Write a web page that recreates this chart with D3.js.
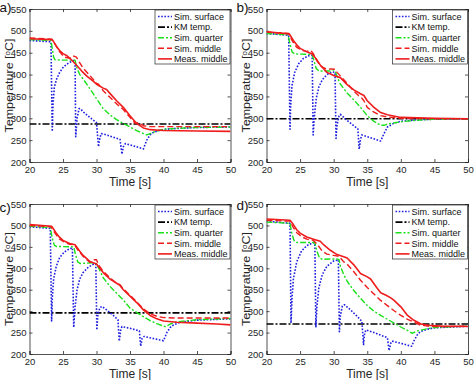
<!DOCTYPE html>
<html><head><meta charset="utf-8">
<script src="https://cdn.jsdelivr.net/npm/d3@7"></script>
<style>
html,body{margin:0;padding:0;background:#fff;}
svg{display:block;font-family:"Liberation Sans",Arial,sans-serif;}
</style></head>
<body><svg id="chart" width="474" height="380"></svg>
<script>
// ---- data (time [s], temperature [°C]) ----
const panelLabels = ["a)", "b)", "c)", "d)"];
const seriesNames = ["Sim. surface", "KM temp.", "Sim. quarter", "Sim. middle", "Meas. middle"];
const xTicks = [20, 25, 30, 35, 40, 45, 50];
const yTicks = [200, 250, 300, 350, 400, 450, 500, 550];
const kmTemps = [287, 299, 296, 270];

const surfA = [[20,478],[23.2,475],[23.4,270],[23.5,330],[23.7,370],[24,388],[24.5,405],[25,416],[25.5,423],[26,428],[26.6,432],[26.8,430],[26.9,258],[27.1,300],[27.4,322],[27.6,322],[28,315],[29,302],[30,290],[30.3,235],[30.5,255],[30.7,265],[31.5,262],[32.5,257],[33.5,252],[33.8,218],[34,235],[34.3,242],[35.5,237],[37,230],[37.5,250],[38,262],[38.5,268],[39.5,273],[41,276],[45,279],[50,280]];
const quartA = [[20,480],[23.2,478],[23.4,460],[23.6,440],[23.8,434],[25,433],[26.8,433],[27,418],[27.5,400],[28,390],[29,368],[30,345],[31,322],[32,308],[33,297],[34,288],[35,280],[36,272],[37,265],[37.5,262],[38,265],[39,271],[40,275],[42,277],[45,279],[50,280]];
const midSimA = [[20,484],[23.3,481],[23.8,470],[24.5,452],[25.2,440],[26,437],[26.5,443],[27,440],[27.3,432],[28,415],[29,398],[30,380],[30.3,378],[31,363],[32,348],[33,333],[34,320],[35,302],[35.8,288],[36.3,290],[37,283],[38,281],[40,281],[45,281],[50,281]];
const measA = [[20,482],[23.4,480],[24,465],[24.5,455],[25,448],[25.6,443],[26.5,430],[27.1,420],[27.8,408],[28.6,396],[29.5,385],[30,378],[31,369],[31.5,366],[32,357],[33,340],[34,325],[35,306],[36,288],[37,278],[38,274],[40,272],[45,271],[50,270]];

const surfB = [[20,494],[23.3,490],[23.5,275],[23.6,330],[23.8,375],[24.2,405],[24.8,425],[25.5,437],[26.3,443],[26.8,444],[26.95,262],[27.1,300],[27.4,345],[27.8,372],[28.3,388],[29,400],[29.8,406],[30.2,405],[30.35,254],[30.5,285],[30.8,305],[31,309],[32,295],[33,283],[33.6,276],[33.8,229],[34,252],[34.2,262],[35,258],[36,253],[37,248],[37.5,265],[38,280],[39,289],[40,293],[42,296],[45,298],[50,299]];
const quartB = [[20,494],[23.2,491],[23.5,470],[23.8,452],[24.2,447],[26.8,446],[27.1,430],[27.4,414],[27.8,408],[29.5,408],[30,411],[30.3,405],[30.6,392],[31,378],[32,358],[33,342],[34,325],[35,306],[36,293],[37,284],[37.5,284],[38,287],[40,292],[42,295],[45,298],[50,299]];
const midSimB = [[20,497],[23.3,494],[23.8,478],[24.5,462],[25.3,455],[26,453],[26.6,455],[27,447],[27.5,432],[28,420],[29,412],[29.6,413],[30.2,412],[30.5,405],[31,397],[32,380],[33,362],[33.7,352],[34.1,348],[34.5,340],[35,325],[35.8,316],[36.5,310],[37,306],[38,303],[40,300],[45,299],[50,299]];
const measB = [[20,498],[23.4,493],[24,478],[24.5,468],[25,460],[26,452],[26.8,447],[27.3,438],[28,422],[29,405],[30,398],[31,393],[31.5,385],[32,377],[33,365],[34,356],[34.5,352],[35,340],[36,325],[37,313],[38,308],[40,302],[45,300],[50,299]];

const surfC = [[20,497],[23.1,493],[23.3,277],[23.4,330],[23.6,375],[24,405],[24.5,425],[25.2,438],[26,446],[26.4,448],[26.6,262],[26.8,310],[27.1,350],[27.5,375],[28,390],[28.8,403],[29.6,410],[29.9,410],[30.05,256],[30.2,290],[30.5,308],[30.8,311],[31.5,303],[32.5,290],[33.2,280],[33.4,230],[33.6,255],[33.8,264],[35,260],[36.4,254],[36.6,218],[36.8,236],[37.1,241],[38.5,236],[40,231],[40.5,250],[41,262],[41.5,268],[42.5,274],[45,279],[50,282]];
const quartC = [[20,498],[23.1,495],[23.4,470],[23.7,454],[24,451],[26.6,450],[26.9,430],[27.2,415],[27.6,411],[29.5,413],[30,410],[30.5,395],[31,378],[32,358],[33,342],[34,326],[35,307],[36,297],[37,287],[38,278],[39,271],[40,265],[40.3,264],[41,270],[42,275],[45,280],[50,283]];
const midSimC = [[20,500],[23.2,497],[23.8,482],[24.5,468],[25.3,460],[26,456],[26.7,455],[27.2,443],[28,428],[29,414],[29.6,420],[30,420],[30.3,408],[31,393],[32,378],[33,365],[33.5,362],[34,352],[35,337],[36,322],[37,305],[38,294],[39,288],[40,285],[42,284],[50,284]];
const measC = [[20,502],[23.3,498],[24,482],[24.5,472],[25,465],[26,458],[26.8,455],[27.5,440],[28,430],[29,416],[30,410],[30.5,400],[31,390],[32,375],[32.5,370],[33,365],[33.5,360],[34,350],[35,335],[36,320],[37,303],[38,290],[39,282],[40,277],[42,274],[45,272],[48,270],[50,268]];

const surfD = [[20,510],[23.5,505],[23.65,272],[23.8,330],[24,375],[24.5,415],[25.2,440],[26,453],[27,460],[27.2,458],[27.35,262],[27.5,310],[27.8,355],[28.3,385],[29,405],[30,417],[30.7,420],[30.85,252],[31,290],[31.3,312],[31.6,315],[32.5,303],[33.5,288],[34.2,276],[34.45,222],[34.6,248],[34.8,256],[36,250],[37,244],[38,238],[38.25,208],[38.5,225],[38.7,230],[40,225],[41.6,218],[42,232],[42.5,246],[43,253],[44,258],[45,261],[50,265]];
const quartD = [[20,508],[23.5,505],[23.8,480],[24.1,465],[24.5,460],[27.2,460],[27.5,440],[27.9,424],[28.3,421],[30.5,422],[30.8,420],[31,405],[31.5,385],[32,370],[33,348],[34,330],[35,313],[36,300],[37,290],[38,281],[39,272],[40,263],[41,255],[41.7,248],[42.5,254],[44,259],[45,262],[50,265]];
const midSimD = [[20,512],[23.5,510],[24,495],[24.5,483],[25.3,473],[26,468],[27,465],[27.6,455],[28.3,440],[29,433],[30,430],[30.8,428],[31.5,415],[32,410],[33,392],[34,372],[35,355],[36,340],[37,325],[38,313],[39,301],[40,290],[41,281],[42,274],[42.8,268],[44,265],[46,264],[50,265]];
const measD = [[20,515],[23.5,512],[24,502],[24.5,490],[25,482],[26,473],[27,468],[28,463],[28.5,455],[29.5,442],[30.5,432],[31.5,427],[32,424],[33,408],[34,388],[35,380],[35.5,375],[36.4,355],[37,343],[37.8,337],[38.5,331],[39,325],[40,310],[41,290],[41.8,280],[43,270],[44,267],[46,265],[50,264]];

// ---- layout ----
const panels = [
  {surf: surfA, quart: quartA, mid: midSimA, meas: measA, x0: 29.5, x1: 230.5, y0: 9, y1: 162, ly: 11.5},
  {surf: surfB, quart: quartB, mid: midSimB, meas: measB, x0: 266.5, x1: 468, y0: 9, y1: 162, ly: 12},
  {surf: surfC, quart: quartC, mid: midSimC, meas: measC, x0: 29.5, x1: 230.5, y0: 204, y1: 354, ly: 211.5},
  {surf: surfD, quart: quartD, mid: midSimD, meas: measD, x0: 266.5, x1: 468, y0: 204, y1: 354, ly: 210}
];
const styles = [
  {color: "#1f1fe0", dash: "1.6,1.6", w: 1.6},
  {color: "#000000", dash: "7,2,2,2", w: 1.6},
  {color: "#19e019", dash: "6,2,2,2", w: 1.4},
  {color: "#ee1c1c", dash: "6,3", w: 1.4},
  {color: "#ee1c1c", dash: null, w: 1.6}
];

const svg = d3.select("#chart");
const axisColor = "#262626";

panels.forEach((p, i) => {
  const x = d3.scaleLinear().domain([20, 50]).range([p.x0, p.x1]);
  const y = d3.scaleLinear().domain([200, 550]).range([p.y1, p.y0]);
  const g = svg.append("g");
  const clipId = "clip" + i;
  svg.append("clipPath").attr("id", clipId).append("rect")
    .attr("x", p.x0).attr("y", p.y0).attr("width", p.x1 - p.x0).attr("height", p.y1 - p.y0);

  const ax = d3.axisBottom(x).tickValues(xTicks).tickSize(-3).tickPadding(4).tickFormat(d3.format("d"));
  const axT = d3.axisTop(x).tickValues(xTicks).tickSize(-3).tickFormat("");
  const ay = d3.axisLeft(y).tickValues(yTicks).tickSize(-3).tickPadding(3).tickFormat(d3.format("d"));
  const ayR = d3.axisRight(y).tickValues(yTicks).tickSize(-3).tickFormat("");
  const styleAxis = sel => {
    sel.selectAll("path,line").attr("stroke", axisColor).attr("stroke-width", 0.8);
    sel.selectAll("text").attr("fill", axisColor).style("font-size", "9.5px")
      .style("font-family", "'Liberation Sans', Arial, sans-serif");
  };
  g.append("g").attr("transform", `translate(0,${p.y1})`).call(ax).call(styleAxis);
  g.append("g").attr("transform", `translate(0,${p.y0})`).call(axT).call(styleAxis);
  g.append("g").attr("transform", `translate(${p.x0},0)`).call(ay).call(styleAxis);
  g.append("g").attr("transform", `translate(${p.x1},0)`).call(ayR).call(styleAxis);

  const line = d3.line().x(d => x(d[0])).y(d => y(d[1]));
  const km = [[20, kmTemps[i]], [50, kmTemps[i]]];
  const data = [p.surf, km, p.quart, p.mid, p.meas];
  const order = [1, 0, 2, 3, 4];
  const lg = g.append("g").attr("clip-path", `url(#${clipId})`);
  order.forEach(k => {
    lg.append("path").datum(data[k]).attr("d", line)
      .attr("fill", "none").attr("stroke", styles[k].color)
      .attr("stroke-width", styles[k].w)
      .attr("stroke-dasharray", styles[k].dash)
      .attr("stroke-linejoin", "round");
  });

  // axis labels
  g.append("text").attr("x", (p.x0 + p.x1) / 2).attr("y", p.y1 + 24)
    .attr("text-anchor", "middle").attr("fill", axisColor).style("font-size", "12px").text("Time [s]");
  const yl = g.append("text")
    .attr("transform", `translate(${p.x0 - 16.5},${(p.y0 + p.y1) / 2}) scale(0.8,1) rotate(-90)`)
    .attr("text-anchor", "middle").attr("fill", axisColor).style("font-size", "12.5px");
  yl.append("tspan").text("Temperature [");
  yl.append("tspan").attr("dy", -4).style("font-size", "8px").text("o");
  yl.append("tspan").attr("dy", 4).text("C]");

  // panel label
  g.append("text").attr("x", p.x0 - 30).attr("y", p.ly)
    .attr("fill", "#111").style("font-size", "13.5px").text(panelLabels[i]);

  // legend
  const lw = 75, lh = 54;
  const lx = p.x1 - lw - 0.5, ly = p.y0 + 1;
  const leg = g.append("g").attr("transform", `translate(${lx},${ly})`);
  leg.append("rect").attr("width", lw).attr("height", lh).attr("fill", "#fff")
    .attr("stroke", axisColor).attr("stroke-width", 0.7);
  seriesNames.forEach((name, k) => {
    const yy = 6.5 + k * 10.6;
    leg.append("line").attr("x1", 3).attr("x2", 17).attr("y1", yy).attr("y2", yy)
      .attr("stroke", styles[k].color).attr("stroke-width", styles[k].w)
      .attr("stroke-dasharray", styles[k].dash);
    leg.append("text").attr("x", 19).attr("y", yy + 3.3).attr("fill", "#111")
      .style("font-size", "9px").text(name);
  });
});
</script></body></html>
